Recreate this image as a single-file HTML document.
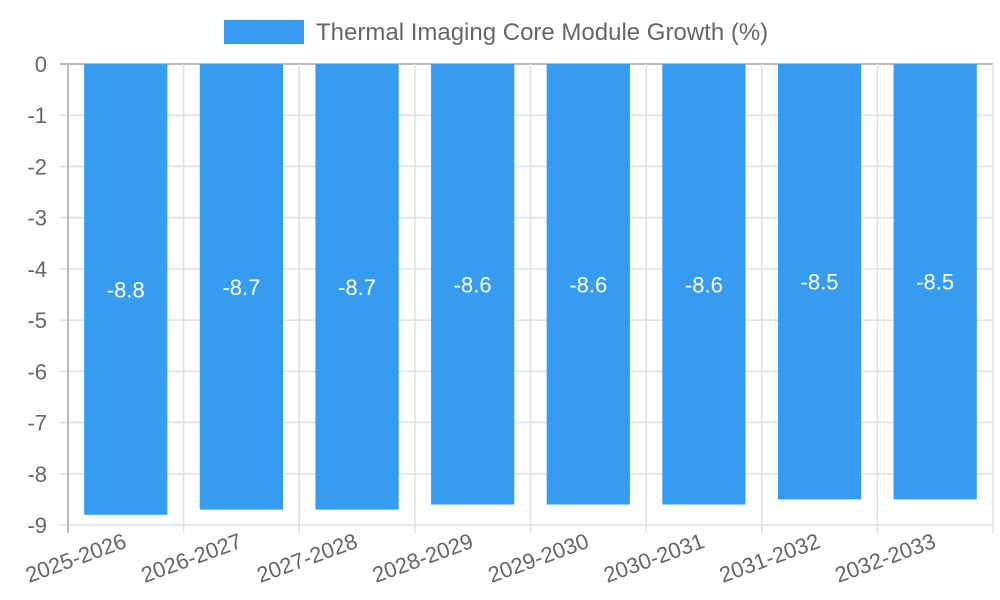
<!DOCTYPE html>
<html><head><meta charset="utf-8"><style>
html,body{margin:0;padding:0;background:#fff;}
svg{display:block;font-family:"Liberation Sans",sans-serif;}
</style></head><body>
<svg id="chart" width="1000" height="600" viewBox="0 0 1000 600" xmlns="http://www.w3.org/2000/svg">
  <g>
    <rect x="224" y="20" width="80" height="24" fill="#369cf0"/>
    <text x="316" y="40" font-size="24" fill="#666">Thermal Imaging Core Module Growth (%)</text>
  </g>
  <g id="grid"></g>
  <g id="bars"></g>
  <g id="labels"></g>
</svg>
<script>
const categories = ["2025-2026","2026-2027","2027-2028","2028-2029","2029-2030","2030-2031","2031-2032","2032-2033"];
const values = [-8.8,-8.7,-8.7,-8.6,-8.6,-8.6,-8.5,-8.5];
const yTicks = [0,-1,-2,-3,-4,-5,-6,-7,-8,-9];

const NS = "http://www.w3.org/2000/svg";
const plotLeft = 68, plotRight = 993, plotTop = 64, plotBottom = 525;
const yMin = -9, yMax = 0;
const yScale = v => plotTop + (yMax - v) / (yMax - yMin) * (plotBottom - plotTop);
const slot = (plotRight - plotLeft) / categories.length;
const xc = i => plotLeft + slot * (i + 0.5);
function mk(tag, attrs, parent){
  const e = document.createElementNS(NS, tag);
  for (const k in attrs) e.setAttribute(k, attrs[k]);
  parent.appendChild(e); return e;
}
const gridG = document.getElementById('grid');
const barsG = document.getElementById('bars');
const labelsG = document.getElementById('labels');

yTicks.forEach(t => {
  const yy = yScale(t);
  const ln = mk('line', {x1: 60, x2: plotRight, y1: yy, y2: yy, stroke: t === 0 ? '#bbb' : '#e0e0e0', 'stroke-width': t === 0 ? 2 : 1.5}, gridG);
  
  
  const tx = mk('text', {x: 47, y: yy + 8, 'text-anchor': 'end', 'font-size': 22, fill: '#666'}, labelsG);
  tx.textContent = t;
  
  
});
for (let i = 0; i <= categories.length; i++) {
  const xx = plotLeft + slot * i;
  const ln = mk('line', {x1: xx, x2: xx, y1: plotTop, y2: plotBottom + 8, stroke: i === 0 ? '#bbb' : '#e0e0e0', 'stroke-width': i === 0 ? 2 : 1.5}, gridG);
  
  
}
categories.forEach((c, i) => {
  const bw = slot * 0.72;
  const y0 = yScale(0), y1 = yScale(values[i]);
  const r = mk('rect', {x: xc(i) - bw / 2, y: y0, width: bw, height: y1 - y0, fill: '#369cf0'}, barsG);
  
  
  const v = mk('text', {x: xc(i), y: (y0 + y1) / 2 + 8, 'text-anchor': 'middle', 'font-size': 22, fill: '#fff'}, labelsG);
  v.textContent = values[i];
  
  
  const xl = mk('text', {x: 0, y: 0, 'text-anchor': 'end', 'font-size': 22, fill: '#666', transform: 'translate(' + (xc(i) + 2) + ',' + (plotBottom + 22) + ') rotate(-20)'}, labelsG);
  xl.textContent = c;
  
  
});
</script>
</body></html>
